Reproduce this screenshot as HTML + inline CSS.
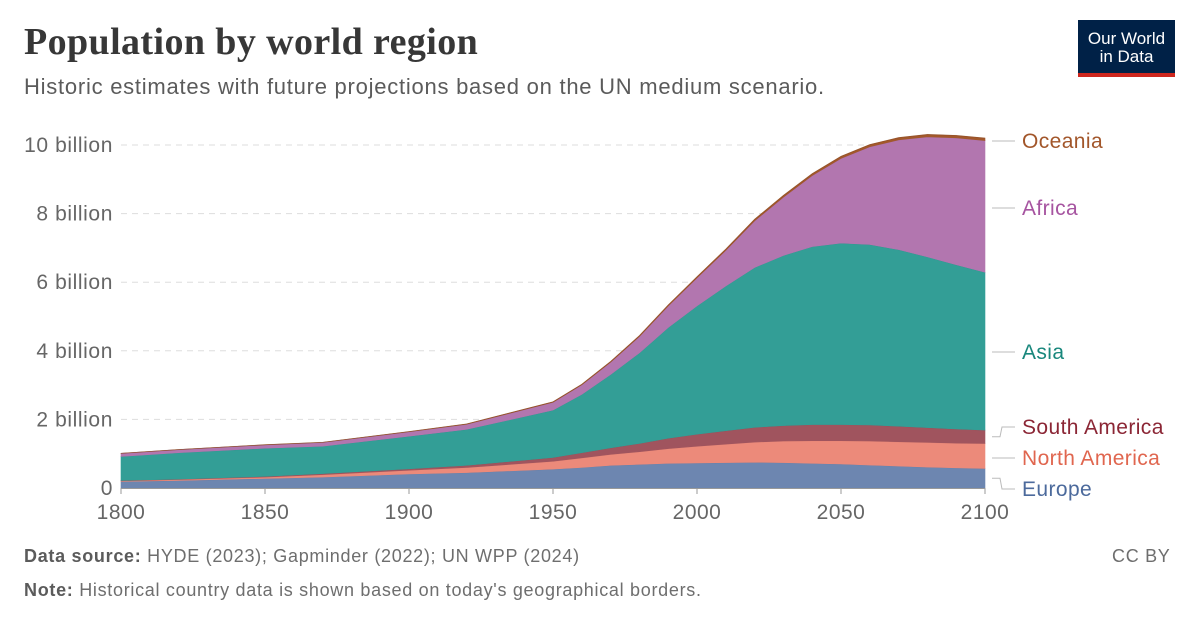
<!DOCTYPE html>
<html><head><meta charset="utf-8"><style>
body{margin:0;background:#fff;font-family:"Liberation Sans",sans-serif;}
#wrap{position:relative;width:1200px;height:627px;overflow:hidden;}
h1{position:absolute;left:24px;top:20px;margin:0;font-family:"Liberation Serif",serif;font-weight:bold;font-size:38px;color:#373737;letter-spacing:0.4px}
.sub{position:absolute;left:24px;top:74px;font-size:22px;color:#5b5b5b;letter-spacing:0.75px}
.logo{position:absolute;left:1078px;top:20px;width:97px;height:57px;background:#002147;color:#fff;font-size:17px;line-height:18px;text-align:center;padding-top:10px;box-sizing:border-box;border-bottom:4px solid #ce261e}
.foot{position:absolute;left:24px;font-size:18px;color:#6e6e6e;letter-spacing:0.7px}
.foot b{color:#5b5b5b}
</style></head><body><div id="wrap">
<h1>Population by world region</h1>
<div class="sub">Historic estimates with future projections based on the UN medium scenario.</div>
<div class="logo">Our World<br>in Data</div>
<svg id="chart" width="1200" height="627" style="position:absolute;left:0;top:0"></svg>
<div class="foot" style="top:546px"><b>Data source:</b> HYDE (2023); Gapminder (2022); UN WPP (2024)</div>
<div class="foot" style="top:546px;left:1112px">CC BY</div>
<div class="foot" style="top:580px"><b>Note:</b> Historical country data is shown based on today's geographical borders.</div>
</div>
<script>
const years=[1800,1820,1850,1870,1900,1920,1950,1960,1970,1980,1990,2000,2010,2020,2030,2040,2050,2060,2070,2080,2090,2100];
const europe=[0.19,0.22,0.28,0.32,0.41,0.45,0.55,0.60,0.66,0.69,0.72,0.73,0.74,0.75,0.74,0.72,0.70,0.67,0.64,0.61,0.59,0.57];
const northAmerica=[0.02,0.03,0.04,0.07,0.11,0.15,0.23,0.28,0.32,0.37,0.43,0.49,0.54,0.59,0.63,0.66,0.68,0.70,0.71,0.72,0.72,0.73];
const southAmerica=[0.01,0.01,0.02,0.03,0.04,0.06,0.11,0.15,0.19,0.24,0.30,0.35,0.39,0.43,0.45,0.47,0.47,0.47,0.45,0.43,0.41,0.39];
const asia=[0.70,0.77,0.82,0.80,0.95,1.05,1.38,1.70,2.14,2.64,3.23,3.74,4.22,4.66,4.96,5.19,5.29,5.26,5.15,4.98,4.79,4.60];
const africa=[0.09,0.09,0.10,0.11,0.13,0.15,0.23,0.28,0.36,0.48,0.63,0.82,1.04,1.36,1.70,2.07,2.47,2.85,3.20,3.50,3.70,3.84];
const oceania=[0.002,0.002,0.002,0.004,0.006,0.009,0.013,0.016,0.02,0.023,0.027,0.031,0.037,0.045,0.05,0.055,0.06,0.063,0.066,0.068,0.07,0.072];
const yTicks=[0,2,4,6,8,10];
const yTickLabels=["0","2 billion","4 billion","6 billion","8 billion","10 billion"];
const xTicks=[1800,1850,1900,1950,2000,2050,2100];
const seriesNames=["Europe","North America","South America","Asia","Africa","Oceania"];
const series=[europe,northAmerica,southAmerica,asia,africa,oceania];
const fills=["#6d86b0","#ec8a7a","#a0545e","#339e96","#b276af","#a2582b"];
const labelColors=["#4c6a9c","#e0664f","#8b2635","#18877c","#a654a0","#a2562a"];
const labelY=[489,458,427,352,208,141];
const ns="http://www.w3.org/2000/svg",svg=document.getElementById('chart');
const X=y=>121+(y-1800)*2.88, Y=v=>488-v*34.3;
function mk(t,a){const e=document.createElementNS(ns,t);for(const k in a)e.setAttribute(k,a[k]);svg.appendChild(e);return e;}
yTicks.forEach((t,i)=>{
  if(t>0){const g=mk('line',{x1:121,x2:985,y1:Y(t),y2:Y(t),stroke:'#ddd','stroke-dasharray':'6,5'});
  
  }
  const l=mk('text',{x:113,y:Y(t)+7,'text-anchor':'end','font-size':21,'letter-spacing':0.6,fill:'#666','font-family':'Liberation Sans'});l.textContent=yTickLabels[i];
  
  
});
let base=years.map(()=>0);
series.forEach((s,si)=>{
  const top=base.map((b,i)=>b+s[i]);
  let d='M'+years.map((y,i)=>X(y)+','+Y(top[i])).join('L');
  for(let i=years.length-1;i>=0;i--)d+='L'+X(years[i])+','+Y(base[i]);
  const p=mk('path',{d:d+'Z',fill:fills[si],stroke:fills[si],'stroke-width':0.6});
  
  
  const ln=mk('polyline',{points:years.map((y,i)=>X(y)+','+Y(top[i])).join(' '),fill:'none',stroke:'rgba(0,0,0,0.08)','stroke-width':1});
  
  
  const mid=Y(top[top.length-1]-s[s.length-1]/2);
  const ly=labelY[si];
  const pts=Math.abs(mid-ly)<3?`992,${ly} 1015,${ly}`:`992,${mid} 1000,${mid} 1002,${ly} 1015,${ly}`;
  const c=mk('polyline',{points:pts,fill:'none',stroke:'#bbb','stroke-width':1});
  
  
  const t=mk('text',{x:1022,y:ly+7,'font-size':21,'letter-spacing':0.4,fill:labelColors[si],'font-family':'Liberation Sans'});t.textContent=seriesNames[si];
  
  
  base=top;
});
const ax=mk('line',{x1:121,x2:985,y1:488.5,y2:488.5,stroke:'#999'});


xTicks.forEach(t=>{
  const tk=mk('line',{x1:X(t),x2:X(t),y1:488,y2:494,stroke:'#999'});
  
  
  const l=mk('text',{x:X(t),y:519,'text-anchor':'middle','font-size':21,'letter-spacing':0.5,fill:'#666','font-family':'Liberation Sans'});l.textContent=t;
  
  
});
</script></body></html>
